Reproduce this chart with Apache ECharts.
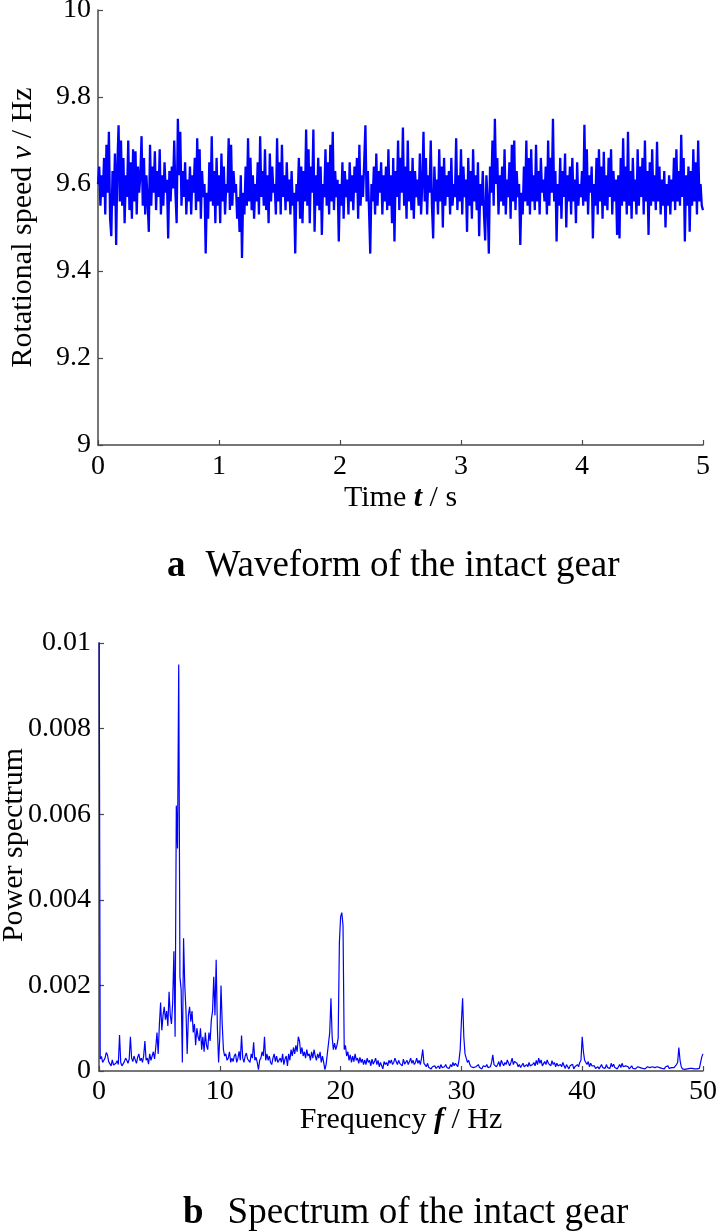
<!DOCTYPE html>
<html>
<head>
<meta charset="utf-8">
<script src="https://cdn.jsdelivr.net/npm/echarts@6/dist/echarts.min.js"></script>
<style>
html,body{margin:0;padding:0;background:#fff;}
#chart{width:717px;height:1232px;}
</style>
</head>
<body>
<div id="chart"></div>
<script>
// ---- Data ----
// (a) rotational speed (Hz), sampled every 0.01 s from 0 to 5 s
const timeStep = 0.01;
const waveform = [
9.60,9.64,9.55,9.62,9.57,9.66,9.53,9.69,9.58,9.72,
9.52,9.48,9.63,9.55,9.67,9.46,9.64,9.735,9.56,9.70,
9.55,9.66,9.51,9.62,9.57,9.70,9.54,9.65,9.52,9.68,
9.56,9.675,9.53,9.64,9.58,9.62,9.71,9.55,9.66,9.53,
9.62,9.56,9.49,9.69,9.55,9.64,9.58,9.675,9.54,9.63,
9.57,9.68,9.53,9.62,9.55,9.65,9.58,9.61,9.475,9.63,
9.56,9.64,9.59,9.70,9.58,9.51,9.75,9.62,9.72,9.55,
9.63,9.57,9.65,9.53,9.61,9.56,9.64,9.53,9.62,9.58,
9.66,9.54,9.705,9.56,9.68,9.52,9.63,9.57,9.60,9.44,
9.58,9.52,9.65,9.56,9.71,9.55,9.63,9.51,9.66,9.55,
9.62,9.51,9.67,9.56,9.64,9.53,9.60,9.58,9.705,9.54,
9.69,9.55,9.63,9.58,9.60,9.52,9.57,9.49,9.62,9.43,
9.58,9.53,9.64,9.55,9.705,9.56,9.66,9.54,9.62,9.52,
9.60,9.56,9.65,9.53,9.71,9.57,9.63,9.55,9.68,9.54,
9.62,9.51,9.67,9.56,9.64,9.58,9.60,9.53,9.705,9.56,
9.65,9.53,9.69,9.57,9.62,9.54,9.65,9.56,9.61,9.53,
9.63,9.55,9.58,9.44,9.60,9.56,9.66,9.52,9.64,9.51,
9.63,9.56,9.725,9.55,9.68,9.51,9.64,9.58,9.725,9.49,
9.62,9.55,9.66,9.54,9.64,9.483,9.60,9.57,9.68,9.55,
9.65,9.53,9.69,9.56,9.72,9.54,9.63,9.57,9.61,9.468,
9.60,9.55,9.65,9.52,9.63,9.57,9.61,9.53,9.65,9.56,
9.62,9.54,9.64,9.58,9.66,9.52,9.69,9.55,9.62,9.57,
9.65,9.735,9.56,9.63,9.54,9.44,9.60,9.56,9.64,9.53,
9.67,9.55,9.63,9.58,9.65,9.53,9.62,9.56,9.64,9.54,
9.68,9.55,9.62,9.51,9.66,9.468,9.63,9.57,9.70,9.54,
9.66,9.58,9.73,9.55,9.64,9.52,9.70,9.56,9.63,9.54,
9.66,9.52,9.63,9.57,9.61,9.55,9.67,9.53,9.60,9.72,
9.56,9.66,9.53,9.62,9.58,9.70,9.55,9.475,9.64,9.56,
9.61,9.53,9.68,9.56,9.64,9.50,9.66,9.55,9.62,9.57,
9.63,9.53,9.66,9.55,9.60,9.57,9.705,9.54,9.62,9.56,
9.68,9.53,9.64,9.57,9.61,9.49,9.66,9.55,9.63,9.52,
9.68,9.56,9.62,9.54,9.65,9.48,9.60,9.55,9.63,9.53,
9.47,9.62,9.56,9.44,9.64,9.58,9.70,9.55,9.75,9.60,
9.66,9.53,9.62,9.56,9.64,9.55,9.68,9.53,9.61,9.57,
9.65,9.52,9.69,9.56,9.70,9.54,9.63,9.57,9.60,9.46,
9.58,9.53,9.64,9.56,9.70,9.55,9.66,9.53,9.68,9.56,
9.62,9.54,9.69,9.56,9.63,9.53,9.66,9.58,9.61,9.56,
9.64,9.53,9.70,9.55,9.66,9.58,9.75,9.56,9.63,9.468,
9.60,9.55,9.66,9.52,9.63,9.57,9.67,9.50,9.62,9.56,
9.64,9.53,9.66,9.56,9.61,9.51,9.65,9.55,9.60,9.57,
9.63,9.55,9.736,9.56,9.68,9.53,9.62,9.58,9.64,9.475,
9.60,9.55,9.66,9.53,9.68,9.56,9.64,9.52,9.674,9.55,
9.62,9.54,9.66,9.57,9.68,9.53,9.63,9.56,9.61,9.483,
9.62,9.475,9.66,9.55,9.705,9.56,9.64,9.53,9.72,9.55,
9.63,9.52,9.66,9.56,9.61,9.53,9.68,9.55,9.64,9.57,
9.66,9.53,9.70,9.56,9.63,9.483,9.65,9.55,9.68,9.56,
9.62,9.54,9.697,9.56,9.64,9.53,9.61,9.55,9.63,9.50,
9.60,9.55,9.62,9.53,9.61,9.56,9.66,9.54,9.68,9.56,
9.63,9.55,9.713,9.57,9.66,9.468,9.62,9.55,9.64,9.49,
9.63,9.55,9.68,9.56,9.65,9.53,9.70,9.56,9.60,9.55,
9.54
];

// (b) power spectrum, in units of 1e-4, every 0.1 Hz from 0 to 50 Hz
const freqStep = 0.1;
const spectrumUnit = 1e-4;
const spectrumE4 = [
120,2.8,3.4,2.0,1.6,3.0,4.3,3.8,2.2,1.8,
1.2,2.6,1.4,1.0,1.8,2.4,1.5,8.4,2.0,1.2,
1.6,2.2,3.0,2.5,1.8,2.8,8.0,3.0,2.2,3.5,
2.6,1.8,3.2,4.0,2.4,3.0,2.0,3.6,7.0,2.5,
3.0,1.6,4.0,2.5,3.5,4.5,2.8,5.5,9.0,4.0,
11.0,16.0,9.5,13.0,15.0,12.0,14.0,10.5,18.5,13.0,
11.0,16.0,28.0,8.0,62.0,52.0,95.0,22.0,19.0,2.0,
31.0,20.0,14.0,4.0,13.0,15.0,11.5,14.0,9.0,11.0,
6.0,10.0,8.0,7.0,10.0,5.0,8.0,4.5,9.0,6.0,
5.0,9.0,7.0,12.0,14.0,22.0,13.0,26.0,10.0,2.0,
8.0,20.0,11.0,5.0,3.5,4.0,2.5,3.0,4.5,2.0,
3.0,2.2,3.5,4.0,2.0,3.0,4.6,2.5,8.3,3.0,
2.0,3.5,4.2,2.8,3.0,2.0,4.0,3.0,6.7,2.5,
3.2,2.0,0.3,2.5,3.0,4.5,3.5,8.0,2.5,4.0,
2.5,3.5,2.0,1.5,3.0,4.0,2.2,3.5,2.0,1.8,
3.0,2.0,4.0,1.5,2.8,3.5,1.2,4.0,2.5,5.0,
3.5,5.5,4.0,6.0,4.5,8.0,7.0,4.0,5.5,3.5,
4.5,3.0,5.0,3.5,4.0,2.5,4.5,3.0,5.0,3.5,
2.5,4.0,3.0,4.5,2.0,3.5,2.0,0.3,1.5,4.0,
4.0,9.0,17.0,8.0,5.0,6.5,5.0,6.0,7.7,30.0,
36.0,37.0,34.0,5.0,6.0,3.5,4.5,2.5,3.8,2.0,
3.5,2.2,4.0,2.5,3.0,1.8,3.2,2.0,2.8,1.5,
2.6,1.5,3.0,2.0,2.5,1.2,2.8,1.6,2.2,3.0,
1.5,2.5,1.0,2.0,1.8,0.5,2.2,1.5,2.0,1.2,
2.5,1.8,2.6,1.5,2.0,3.0,2.2,1.5,2.5,1.8,
2.2,1.2,2.8,1.6,2.0,2.5,1.5,2.2,3.0,1.8,
2.5,1.5,2.0,3.0,1.8,2.5,1.5,3.0,5.0,1.8,
1.5,1.0,1.8,0.8,1.2,0.5,1.0,0.8,1.2,0.6,
0.8,1.2,0.5,1.5,0.8,0.4,1.0,1.5,0.8,1.2,
0.6,1.5,1.0,2.0,1.2,1.8,1.5,1.0,2.5,5.0,
11.5,17.0,8.0,4.0,3.0,2.0,2.5,1.5,1.0,1.2,
0.8,1.2,1.0,0.6,1.5,0.8,1.0,0.5,1.2,0.8,
1.0,1.5,0.8,1.2,1.0,2.0,3.8,1.5,1.2,1.0,
1.5,2.2,1.0,2.5,1.8,1.2,2.0,1.5,2.6,1.8,
1.2,2.0,3.0,1.5,2.2,2.6,1.8,1.0,1.5,0.8,
1.2,1.8,1.0,0.6,1.5,1.0,2.0,1.2,0.8,1.5,
2.0,1.2,2.5,1.5,3.0,1.8,2.6,1.2,1.0,2.2,
1.5,2.6,1.8,2.2,1.2,2.4,1.5,2.0,1.0,1.8,
1.2,0.8,1.5,1.0,2.0,1.2,0.6,1.5,1.0,0.5,
1.2,0.8,1.6,0.5,1.0,0.8,1.5,1.0,2.0,2.5,
8.0,4.5,2.5,2.0,1.5,2.2,1.0,1.8,1.2,0.8,
1.2,0.6,0.8,1.0,0.5,0.8,1.5,0.8,1.2,0.6,
1.5,0.8,1.2,0.6,1.8,1.0,1.6,0.8,1.2,0.5,
1.0,1.5,0.8,1.8,1.0,0.6,1.2,0.8,1.0,0.5,
0.8,1.2,0.6,1.0,0.5,0.8,1.0,0.6,0.8,0.5,
0.6,1.0,0.5,0.8,1.0,0.6,0.8,0.5,1.0,0.6,
0.8,0.5,1.0,0.6,0.8,1.2,0.6,0.8,0.5,1.0,
0.8,1.2,0.6,1.0,0.8,1.2,0.8,1.0,1.5,2.0,
5.5,2.5,1.0,0.5,0.6,0.4,0.6,0.5,0.4,0.6,
0.5,0.6,0.4,0.5,0.6,0.5,0.4,0.6,0.8,3.3,
4.0
];

const timeTicks = [0, 1, 2, 3, 4, 5];
const speedTicks = [9, 9.2, 9.4, 9.6, 9.8, 10];
const freqTicks = [0, 10, 20, 30, 40, 50];
const powerTicks = [0, 0.002, 0.004, 0.006, 0.008, 0.01];

// ---- Build series data ----
const waveData = waveform.map((v, i) => [+(i * timeStep).toFixed(2), v]);
const specData = spectrumE4.map((v, i) => [+(i * freqStep).toFixed(1), v * spectrumUnit]);

const FONT = '"Liberation Serif", "Times New Roman", serif';
const axisColor = '#4a4a4a';

function valueAxis(extra) {
  return Object.assign({
    type: 'value',
    axisLine: { show: true, onZero: false, lineStyle: { color: axisColor, width: 1.5 } },
    axisTick: { show: true, inside: true, length: 5, lineStyle: { color: axisColor, width: 1.2 } },
    splitLine: { show: false },
    axisLabel: { color: '#000', fontFamily: FONT, fontSize: 28, showMinLabel: true, showMaxLabel: true },
    nameLocation: 'middle',
    nameMoveOverlap: false,
    nameTextStyle: { color: '#000', fontFamily: FONT, fontSize: 30 }
  }, extra);
}

const chart = echarts.init(document.getElementById('chart'), null, { renderer: 'canvas' });

chart.setOption({
  animation: false,
  backgroundColor: '#fff',
  grid: [
    { left: 98, top: 10, width: 605, height: 435, containLabel: false, outerBoundsMode: 'none' },
    { left: 99, top: 643, width: 604, height: 428, containLabel: false, outerBoundsMode: 'none' }
  ],
  xAxis: [
    valueAxis({
      gridIndex: 0, min: timeTicks[0], max: timeTicks[timeTicks.length - 1], interval: 1,
      axisLabel: { color: '#000', fontFamily: FONT, fontSize: 28, margin: 8, showMinLabel: true, showMaxLabel: true },
      name: 'Time {i|t} / s', nameGap: 38,
      nameTextStyle: { color: '#000', fontFamily: FONT, fontSize: 30,
        rich: { i: { fontFamily: FONT, fontSize: 30, fontStyle: 'italic', fontWeight: 'bold', color: '#000' } } }
    }),
    valueAxis({
      gridIndex: 1, min: freqTicks[0], max: freqTicks[freqTicks.length - 1], interval: 10,
      axisLabel: { color: '#000', fontFamily: FONT, fontSize: 28, margin: 7, showMinLabel: true, showMaxLabel: true },
      name: 'Frequency {i|f} / Hz', nameGap: 34,
      nameTextStyle: { color: '#000', fontFamily: FONT, fontSize: 30,
        rich: { i: { fontFamily: FONT, fontSize: 30, fontStyle: 'italic', fontWeight: 'bold', color: '#000' } } }
    })
  ],
  yAxis: [
    valueAxis({
      gridIndex: 0, min: speedTicks[0], max: speedTicks[speedTicks.length - 1], interval: 0.2,
      axisLabel: { color: '#000', fontFamily: FONT, fontSize: 28, margin: 7, showMinLabel: true, showMaxLabel: true,
        formatter: v => String(+v.toFixed(1)) },
      name: 'Rotational speed {i|v} / Hz', nameGap: 60,
      nameTextStyle: { color: '#000', fontFamily: FONT, fontSize: 30,
        rich: { i: { fontFamily: FONT, fontSize: 30, fontStyle: 'italic', color: '#000' } } }
    }),
    valueAxis({
      gridIndex: 1, min: powerTicks[0], max: powerTicks[powerTicks.length - 1], interval: 0.002,
      axisLabel: { color: '#000', fontFamily: FONT, fontSize: 28, margin: 8, showMinLabel: true, showMaxLabel: true,
        formatter: v => String(+v.toFixed(3)) },
      name: 'Power spectrum', nameGap: 70,
      nameTextStyle: { color: '#000', fontFamily: FONT, fontSize: 30, padding: [0, 0, 0, 24] }
    })
  ],
  title: [
    {
      left: 162, top: 541,
      text: '{b|a}{n|Waveform of the intact gear}',
      textStyle: {
        fontWeight: 'normal',
        rich: {
          b: { fontFamily: FONT, fontSize: 37, fontWeight: 'bold', color: '#000', lineHeight: 40 },
          n: { fontFamily: FONT, fontSize: 37, fontWeight: 'normal', color: '#000', padding: [0, 0, 0, 20], lineHeight: 40 }
        }
      }
    },
    {
      left: 178, top: 1188,
      text: '{b|b}{n|Spectrum of the intact gear}',
      textStyle: {
        fontWeight: 'normal',
        rich: {
          b: { fontFamily: FONT, fontSize: 37, fontWeight: 'bold', color: '#000', lineHeight: 40 },
          n: { fontFamily: FONT, fontSize: 37, fontWeight: 'normal', color: '#000', padding: [0, 0, 0, 24], lineHeight: 40 }
        }
      }
    }
  ],
  series: [
    {
      type: 'line', xAxisIndex: 0, yAxisIndex: 0, data: waveData,
      showSymbol: false, clip: true, lineStyle: { color: '#0000ff', width: 2.3 }, z: 3
    },
    {
      type: 'line', xAxisIndex: 1, yAxisIndex: 1, data: specData,
      showSymbol: false, clip: true, lineStyle: { color: '#0000ff', width: 1.2 }, z: 3
    }
  ]
});
</script>
</body>
</html>
